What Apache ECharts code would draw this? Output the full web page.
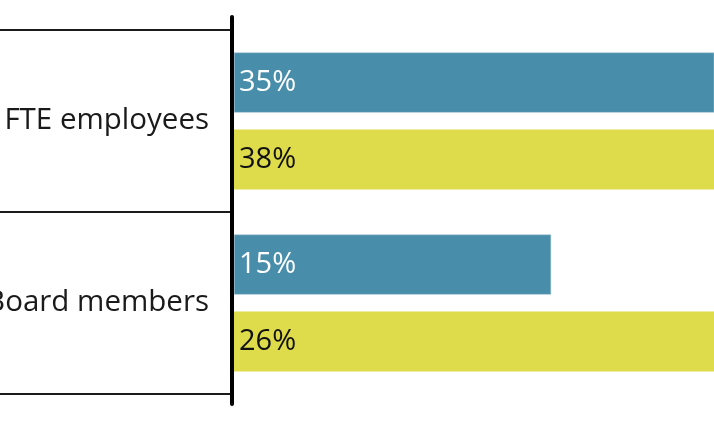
<!DOCTYPE html>
<html>
<head>
<meta charset="utf-8">
<script src="https://cdn.jsdelivr.net/npm/echarts@6/dist/echarts.min.js"></script>
<style>
html,body{margin:0;padding:0;background:#fff;}
#chart{width:714px;height:439px;}
</style>
</head>
<body>
<div id="chart"></div>
<script>
const categories = ['FTE employees', 'Board members'];
const seriesA = [35, 15];
const seriesB = [38, 26];
const seriesNames = ['Group A', 'Group B'];

const chart = echarts.init(document.getElementById('chart'));
const FONT = '"Open Sans"';
chart.setOption({
  animation: false,
  backgroundColor: '#ffffff',
  grid: [
    { left: 234, right: 0, top: 30, bottom: 45, containLabel: false, outerBoundsMode: 'none' },
    { left: 232, right: 0, top: 17, bottom: 35, containLabel: false, outerBoundsMode: 'none' }
  ],
  xAxis: [
    { type: 'value', gridIndex: 0, min: 0, max: 22.71, show: false },
    { type: 'value', gridIndex: 1, min: 0, max: 1, show: false }
  ],
  yAxis: [
    {
      type: 'category', gridIndex: 0, data: categories, inverse: true,
      axisLine: { show: false },
      axisTick: { show: true, length: 234, lineStyle: { color: '#1a1a1a', width: 2 } },
      axisLabel: { margin: 25, color: '#1a1a1a', fontFamily: FONT, fontSize: 29.5 },
      splitLine: { show: false }
    },
    {
      type: 'value', gridIndex: 1, min: 0, max: 1, z: 10,
      axisLine: { show: true, lineStyle: { color: '#000', width: 4 } },
      axisTick: { show: false }, axisLabel: { show: false }, splitLine: { show: false }
    }
  ],
  series: [
    {
      name: seriesNames[0], type: 'bar', data: seriesA,
      xAxisIndex: 0, yAxisIndex: 0,
      barWidth: 60, barGap: '28%',
      itemStyle: { color: '#488DAA', borderColor: '#9cc0d0', borderWidth: 0.5 },
      label: { show: true, position: 'insideLeft', distance: 5, formatter: '{c}%', color: '#ffffff', fontFamily: FONT, fontSize: 29 }
    },
    {
      name: seriesNames[1], type: 'bar', data: seriesB,
      xAxisIndex: 0, yAxisIndex: 0,
      barWidth: 60, barGap: '28%',
      itemStyle: { color: '#DFDC4B' },
      label: { show: true, position: 'insideLeft', distance: 5, formatter: '{c}%', color: '#111111', fontFamily: FONT, fontSize: 29 }
    }
  ]
});
</script>
</body>
</html>
